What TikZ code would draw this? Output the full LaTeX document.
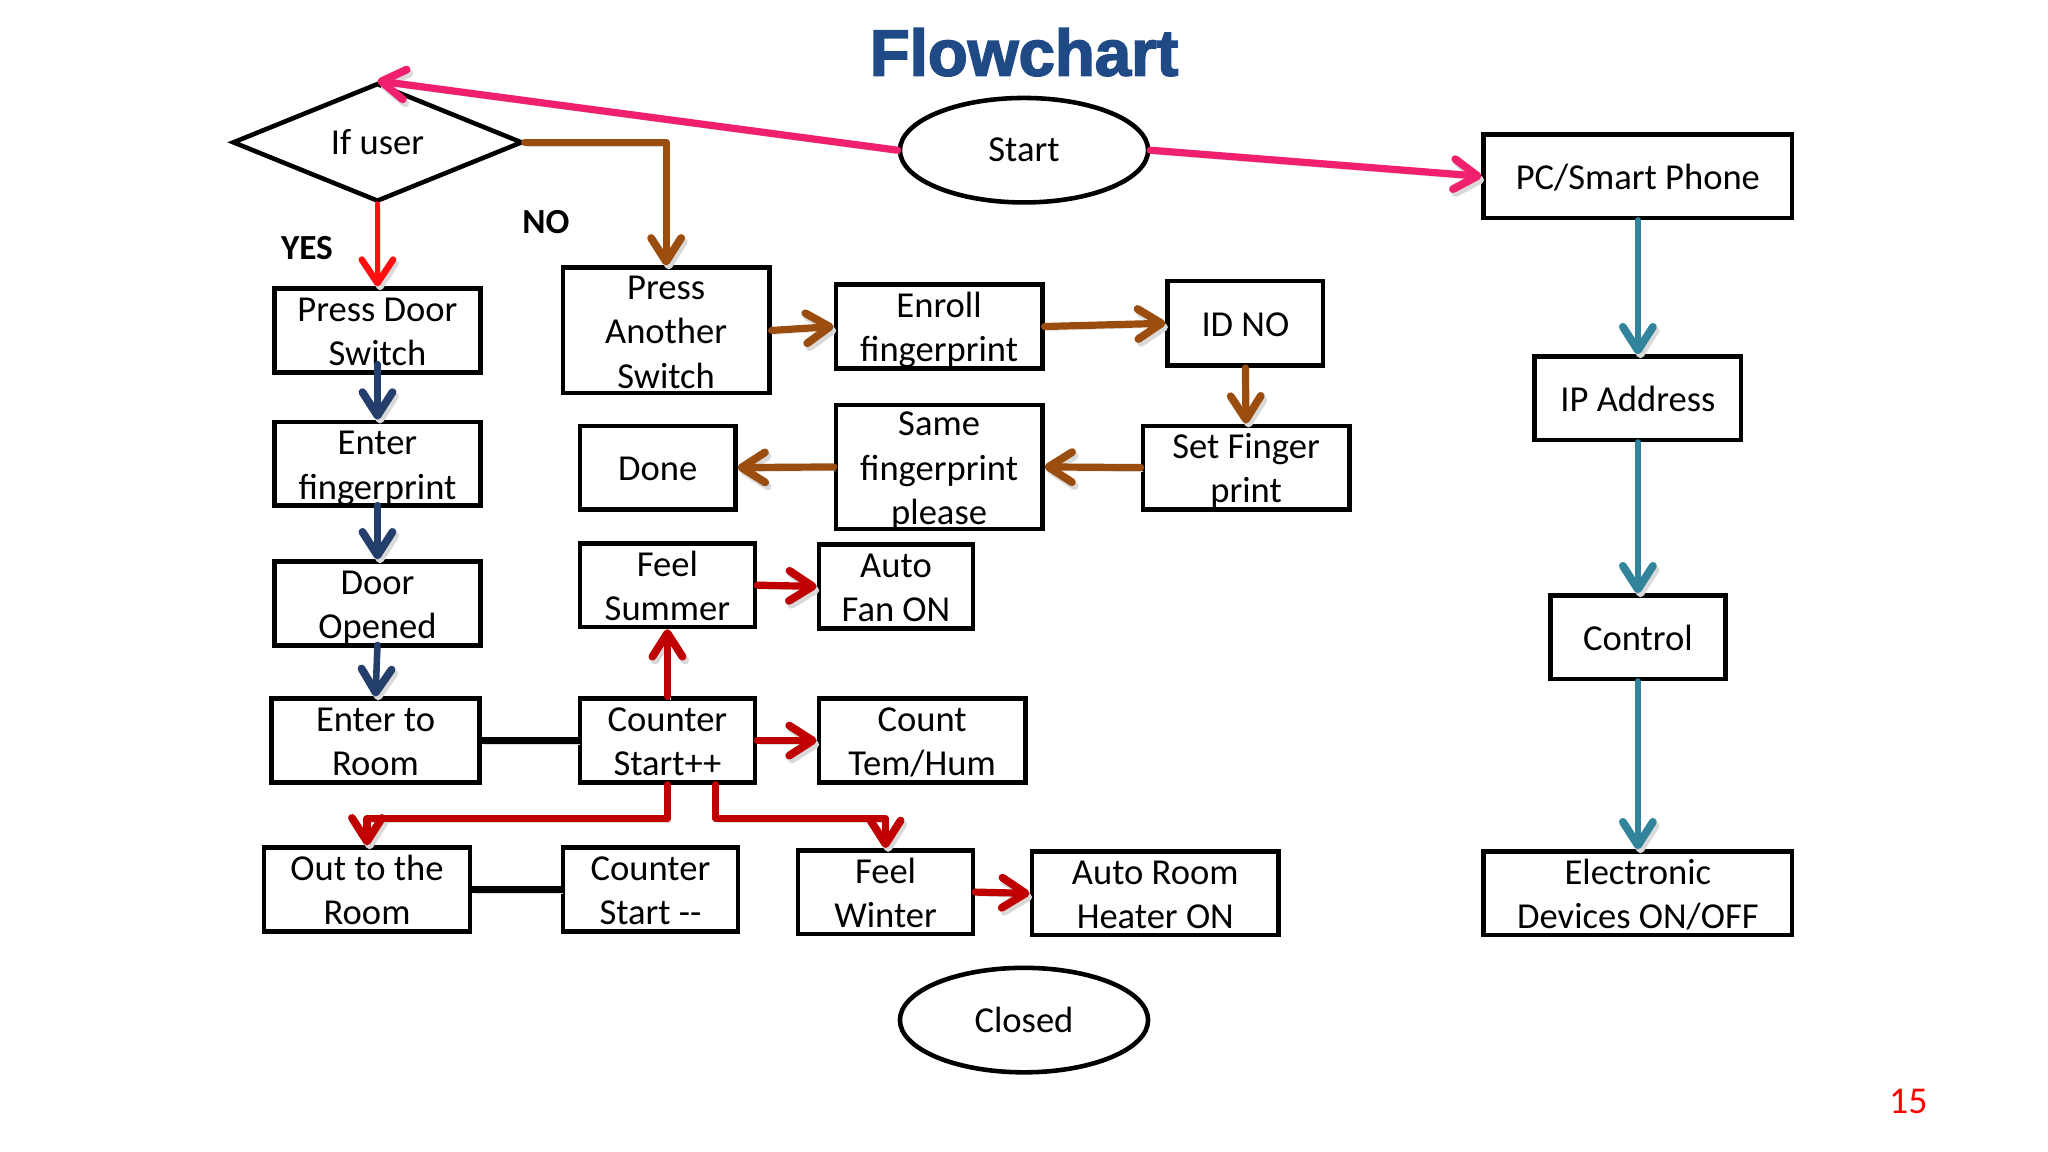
\documentclass[tikz,border=0pt]{standalone}
\usepackage{fontspec}
\setmainfont{Carlito}
\newfontfamily\titlefont[UprightFont=* Bold, UprightFeatures={FakeBold=2.5}]{Liberation Sans}
\usetikzlibrary{shapes.geometric,arrows.meta,calc}
\definecolor{pinkc}{HTML}{F0206E}
\definecolor{brownc}{HTML}{9A4D0E}
\definecolor{yesred}{HTML}{FF0F0F}
\definecolor{navyc}{HTML}{243F6B}
\definecolor{dredc}{HTML}{C00000}
\definecolor{tealc}{HTML}{31849B}
\definecolor{titleblue}{HTML}{1F4A86}
\definecolor{pagered}{HTML}{FF0000}
\newcommand{\bt}[1]{\raisebox{-9.5pt}[0pt][0pt]{\begin{tabular}{@{}c@{}}#1\end{tabular}}}
\begin{document}
\begin{tikzpicture}[x=1pt,y=-1pt,
  boxfont/.style={font=\fontsize{28}{34}\selectfont},
  fbox/.style={draw, line width=3.5pt, rectangle, inner sep=0pt, boxfont},
  oval/.style={draw, line width=3.5pt, ellipse, inner sep=0pt, minimum width=190pt, minimum height=80pt, boxfont},
  tip/.style={-{Straight Barb[length=18pt,width=23pt,line width=6pt,line cap=round,line join=round]}},
  tipthin/.style={-{Straight Barb[length=18pt,width=24pt,line width=5pt,line cap=round,line join=round]}},
  shade/.style={preaction={draw=black!15, transform canvas={shift={(2pt,-3pt)}}}},
  conn/.style={line width=#1, line cap=round, line join=round, shade},
  conn/.default=5.5pt
]
\useasboundingbox[fill=white] (0,0) rectangle (1568,882);

% title
\node[font=\titlefont\fontsize{50}{60}\selectfont, text=titleblue] (title) at (784,40) {Flowchart};

% terminals
\node[oval] (start) at (784,115) {Start};
\node[oval] (closed) at (784,781) {Closed};

% decision
\node[draw, line width=3.5pt, diamond, inner sep=0pt, minimum width=222pt, minimum height=78pt, boxfont] (dia) at (289,109) {If user};

\node[font=\bfseries\fontsize{27}{34}\selectfont] (yes) at (235,190) {YES};
\node[font=\bfseries\fontsize{27}{34}\selectfont] (no) at (418,170) {NO};

% left column
\node[fbox, minimum width=158pt, minimum height=64pt] (pds) at (289,253) {\bt{Press Door\\Switch}};
\node[fbox, minimum width=158pt, minimum height=64pt] (ef) at (289,355) {\bt{Enter\\fingerprint}};
\node[fbox, minimum width=158pt, minimum height=64pt] (dop) at (289,462) {\bt{Door\\Opened}};
\node[fbox, minimum width=159pt, minimum height=64pt] (etr) at (287.5,567) {\bt{Enter to\\Room}};
\node[fbox, minimum width=158pt, minimum height=64pt] (otr) at (281,681) {\bt{Out to the\\Room}};
\node[fbox, minimum width=134pt, minimum height=64pt] (csm) at (498,681) {\bt{Counter\\Start -{}-}};

% enrollment branch
\node[fbox, minimum width=158pt, minimum height=96pt] (pas) at (510,253) {\bt{Press\\Another\\Switch}};
\node[fbox, minimum width=158pt, minimum height=64pt] (enr) at (719,250) {\bt{Enroll\\fingerprint}};
\node[fbox, minimum width=119pt, minimum height=65pt] (idno) at (953.5,247.5) {\bt{ID NO}};
\node[fbox, minimum width=158pt, minimum height=64pt] (sf) at (954,358) {\bt{Set Finger\\print}};
\node[fbox, minimum width=158pt, minimum height=95pt] (sfp) at (719,357.5) {\bt{Same\\fingerprint\\please}};
\node[fbox, minimum width=119pt, minimum height=64pt] (done) at (503.5,358) {\bt{Done}};

% counter branch
\node[fbox, minimum width=134pt, minimum height=64pt] (fs) at (511,448) {\bt{Feel\\Summer}};
\node[fbox, minimum width=118pt, minimum height=64pt] (af) at (686,449) {\bt{Auto\\Fan ON}};
\node[fbox, minimum width=134pt, minimum height=64pt] (csp) at (511,567) {\bt{Counter\\Start++}};
\node[fbox, minimum width=158pt, minimum height=64pt] (cth) at (706,567) {\bt{Count\\Tem/Hum}};
\node[fbox, minimum width=134pt, minimum height=64pt] (fw) at (678,683) {\bt{Feel\\Winter}};
\node[fbox, minimum width=189pt, minimum height=64pt] (arh) at (884.5,684) {\bt{Auto Room\\Heater ON}};

% right column
\node[fbox, minimum width=236pt, minimum height=64pt] (pc) at (1254,135) {\bt{PC/Smart Phone}};
\node[fbox, minimum width=158pt, minimum height=64pt] (ip) at (1254,305) {\bt{IP Address}};
\node[fbox, minimum width=134pt, minimum height=64pt] (ctl) at (1254,488) {\bt{Control}};
\node[fbox, minimum width=236pt, minimum height=64pt] (edo) at (1254,684) {\bt{Electronic\\Devices ON/OFF}};

% page number
\node[font=\fontsize{29}{34}\selectfont, text=pagered] (pg) at (1461,843) {15};

% connectors
\draw[conn=5.5pt, pinkc, tip] (start.west) -- (dia.north);
\draw[conn=5.5pt, pinkc, tip] (start.east) -- (pc.west);
\draw[conn=5.5pt, brownc, tip] (dia.east) -| (pas.north);
\draw[conn=4pt, yesred, tipthin] (dia.south) -- (pds.north);

\draw[conn=5pt, navyc, tip] ([yshift=8pt]pds.south) -- (ef.north);
\draw[conn=5pt, navyc, tip] ([yshift=2pt]ef.south) -- (dop.north);
\draw[conn=5pt, navyc, tip] ([yshift=2pt]dop.south) -- (etr.north);

\draw[conn=6pt, black, line cap=butt] (etr.east) -- (csp.west);
\draw[conn=6pt, black, line cap=butt] (otr.east) -- (csm.west);

\draw[conn=5.5pt, brownc, tip] (pas.east) -- (enr.west);
\draw[conn=5.5pt, brownc, tip] (enr.east) -- (idno.west);
\draw[conn=5.5pt, brownc, tip] (idno.south) -- (sf.north);
\draw[conn=5.5pt, brownc, tip] (sf.west) -- (sfp.east);
\draw[conn=5.5pt, brownc, tip] (sfp.west) -- (done.east);

\draw[conn=5.5pt, dredc, tip] (csp.north) -- (fs.south);
\draw[conn=5.5pt, dredc, tip] (fs.east) -- (af.west);
\draw[conn=5.5pt, dredc, tip] (csp.east) -- (cth.west);
\draw[conn=5.5pt, dredc, tip] (csp.south) -- ++(0,26) -| (otr.north);
\draw[conn=5.5pt, dredc, tip] ([xshift=37pt]csp.south) -- ++(0,26) -| (fw.north);
\draw[conn=5.5pt, dredc, tip] (fw.east) -- (arh.west);

\draw[conn=5pt, tealc, tip] (pc.south) -- (ip.north);
\draw[conn=5pt, tealc, tip] (ip.south) -- (ctl.north);
\draw[conn=5pt, tealc, tip] (ctl.south) -- (edo.north);
\end{tikzpicture}
\end{document}
